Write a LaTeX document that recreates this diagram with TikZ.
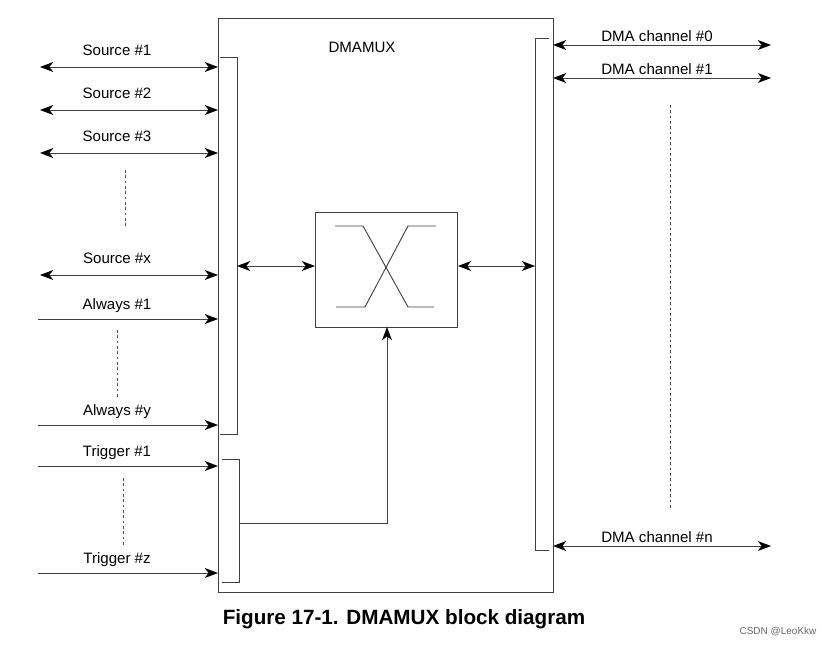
\documentclass[tikz,border=0pt]{standalone}
\usepackage{fontspec}
\setmainfont{Liberation Sans}
\usetikzlibrary{arrows.meta}
\begin{document}
\begin{tikzpicture}[x=0.75pt,y=-0.75pt,
  ln/.style={line width=0.7pt,black!75},
  tip/.tip={Stealth[length=10pt,width=7.5pt,inset=3pt,black]},
  ar/.style={ln,-tip},
  bar/.style={ln,tip-tip},
  lbl/.style={font=\fontsize{11.3}{13}\selectfont},
  dsh/.style={black!70,line width=0.6pt,dash pattern=on 2pt off 2pt}]
\useasboundingbox (0,0) rectangle (834,645);
\node[draw,ln,minimum width=335*0.75pt,minimum height=574*0.75pt,anchor=north west,inner sep=0] (box) at (218,18) {};
\node[lbl] (dmamux) at (362,47) {DMAMUX};
\node[draw,ln,minimum width=142*0.75pt,minimum height=115*0.75pt,anchor=north west,inner sep=0] (sw) at (315,212) {};
\draw[ln] (335,226) -- (363,226) -- (408,307) -- (434,307);
\draw[ln] (336,307) -- (365,307) -- (408,226) -- (436,226);
% brackets
\draw[ln] (220,57) -- (237,57) -- (237,434) -- (220,434);
\draw[ln] (222,459) -- (239,459) -- (239,582) -- (222,582);
\draw[ln] (549,38) -- (535,38) -- (535,550) -- (549,550);
\coordinate (lb) at (237,266); \coordinate (rb) at (535,266);
\draw[bar] (lb) -- (sw.west |- lb);
\draw[bar] (sw.east |- rb) -- (rb);
\coordinate (tb) at (239,523);
\draw[ar] (tb) -- (387,523) -- (387,327);
% left inputs
\foreach \n/\y/\t in {s1/67/Source \#1,s2/110/Source \#2,s3/153/Source \#3,sx/275/Source \#x}{
  \coordinate (\n) at (40,\y);
  \draw[bar] (\n) -- (218,\y);
  \node[lbl] at (117,\y-17) {\t};}
\foreach \n/\y/\t in {a1/319/Always \#1,ay/425/Always \#y,t1/466/Trigger \#1,tz/573/Trigger \#z}{
  \coordinate (\n) at (38,\y);
  \draw[ar] (\n) -- (218,\y);
  \node[lbl] at (117,\y-13) {\t};}
\draw[dsh] (125,170) -- (125,228);
\draw[dsh] (117,330) -- (117,398);
\draw[dsh] (123,478) -- (123,545);
% right outputs
\foreach \n/\y/\t in {d0/45/DMA channel \#0,d1/78/DMA channel \#1,dn/546/DMA channel \#n}{
  \coordinate (\n) at (771,\y);
  \draw[bar] (553,\y) -- (\n);
  \node[lbl] at (657,\y-9) {\t};}
\draw[dsh] (670,105) -- (670,510);
\node[font=\bfseries\fontsize{15.5}{18}\selectfont] (cap) at (404,619) {Figure 17-1. DMAMUX block diagram};
\node[font=\fontsize{7.5}{9}\selectfont,text=black!60] (wm) at (778,632) {CSDN @LeoKkw};
\end{tikzpicture}
\end{document}
